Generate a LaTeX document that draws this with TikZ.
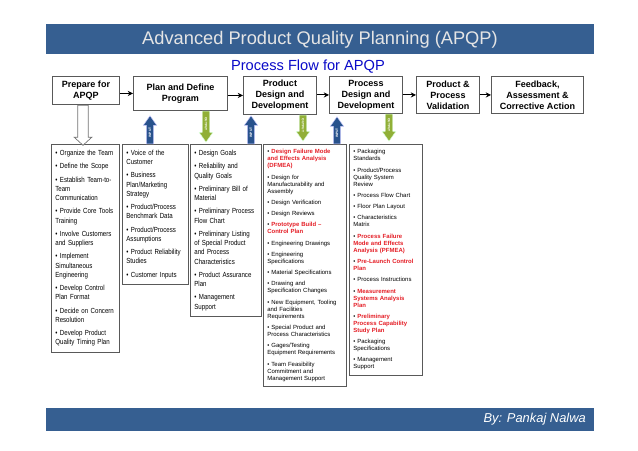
\documentclass[tikz,border=0pt]{standalone}
\usepackage{fontspec}
\setmainfont{Liberation Sans}
\newfontfamily\narrowfont{Liberation Sans}[FakeStretch=0.83]
\usetikzlibrary{arrows.meta,shapes.arrows}
\definecolor{barblue}{RGB}{54,95,145}
\definecolor{flowblue}{RGB}{10,10,200}
\definecolor{hotred}{RGB}{228,30,38}
\definecolor{inblue}{RGB}{40,82,140}
\definecolor{outgreen}{RGB}{145,175,55}
\newcommand{\gp}{\\[3.4pt]}
\newcommand{\gq}{\\[3.6pt]}
\newcommand{\hot}[1]{{\color{hotred}\bfseries #1}}

\begin{document}
\begin{tikzpicture}[x=0.03cm,y=-0.03cm,
    bar/.style={fill=barblue,minimum width=16.44cm,inner sep=0pt},
    stage/.style={draw=black!65,line width=0.8pt,fill=white,anchor=north west,
      align=center,inner sep=1pt,font=\bfseries\fontsize{7.7}{9.4}\selectfont},
    listbox/.style={draw=black!65,line width=0.6pt,anchor=north west,align=left,
      inner xsep=0.12cm,inner ysep=0pt},
    narrowlist/.style={listbox,font=\narrowfont\fontsize{6.3}{7.9}\selectfont},
    smalllist/.style={listbox,font=\fontsize{5.1}{6}\selectfont},
    flow/.style={-{Stealth[length=4.5pt,width=4.5pt]},line width=0.9pt},
    blockarrow/.style={single arrow,single arrow head extend=2.6pt,single arrow tip angle=70,
      line width=0.4pt,inner xsep=1pt,inner ysep=2pt,anchor=tail,text=white,
      font=\bfseries\fontsize{2.8}{3}\selectfont},
    inarrow/.style={blockarrow,fill=inblue,draw=blue!20!white,rotate=90},
    outarrow/.style={blockarrow,fill=outgreen,draw=green!15!white,rotate=-90},
    hollow/.style={single arrow,draw=black!55,fill=white,line width=0.6pt,inner xsep=0pt,
      inner ysep=4.25pt,minimum height=1.2cm,single arrow head extend=3pt,
      single arrow tip angle=95,rotate=-90,anchor=tail}
  ]
    \useasboundingbox (0,0) rectangle (638,451);
    % banner
    \node[bar,minimum height=0.9cm,text=white!90!black,font=\fontsize{15.6}{18}\selectfont]
      (title) at (320,39.5) {Advanced Product Quality Planning (APQP)};
    \node[text=flowblue,font=\fontsize{12.5}{14}\selectfont] (subtitle) at (308,66.5) {Process Flow for APQP};

    % phases
    \node[stage,minimum width=2.01cm,minimum height=0.84cm] (h1) at (52,76) {Prepare for\\APQP};
    \node[stage,minimum width=2.82cm,minimum height=1.02cm] (h2) at (133,76) {Plan and Define\\Program};
    \node[stage,minimum width=2.19cm,minimum height=1.14cm] (h3) at (243,76) {Product\\Design and\\Development};
    \node[stage,minimum width=2.19cm,minimum height=1.11cm] (h4) at (329,76) {Process\\Design and\\Development};
    \node[stage,minimum width=1.89cm,minimum height=1.11cm] (h5) at (416,76) {Product \&\\Process\\Validation};
    \node[stage,minimum width=2.76cm,minimum height=1.11cm] (h6) at (491,76) {Feedback,\\Assessment \&\\Corrective Action};
    \draw[flow] (h1.east |- h2) -- (h2);
    \draw[flow] (h2.east |- h3) -- (h3);
    \draw[flow] (h3.east |- h4) -- (h4);
    \draw[flow] (h4.east |- h5) -- (h5);
    \draw[flow] (h5.east |- h6) -- (h6);

    % lists
    \node[narrowlist,text width=1.8cm,minimum height=6.24cm] (c1) at (51,144) {%
      • Organize the Team\gp
      • Define the Scope\gp
      • Establish Team-to-\\Team\\Communication\gp
      • Provide Core Tools\\Training\gp
      • Involve Customers\\and Suppliers\gp
      • Implement\\Simultaneous\\Engineering\gp
      • Develop Control\\Plan Format\gp
      • Decide on Concern\\Resolution\gp
      • Develop Product\\Quality Timing Plan};
    \node[narrowlist,text width=1.74cm,minimum height=4.2cm] (c2) at (122,144) {%
      • Voice of the\\Customer\gp
      • Business\\Plan/Marketing\\Strategy\gp
      • Product/Process\\Benchmark Data\gp
      • Product/Process\\Assumptions\gp
      • Product Reliability\\Studies\gp
      • Customer Inputs};
    \node[narrowlist,text width=1.89cm,minimum height=5.16cm] (c3) at (190,144) {%
      • Design Goals\gp
      • Reliability and\\Quality Goals\gp
      • Preliminary Bill of\\Material\gp
      • Preliminary Process\\Flow Chart\gp
      • Preliminary Listing\\of Special Product\\and Process\\Characteristics\gp
      • Product Assurance\\Plan\gp
      • Management\\Support};
    \node[smalllist,text width=2.25cm,minimum height=7.26cm] (c4) at (263,144) {%
      • \hot{Design Failure Mode\\and Effects Analysis\\(DFMEA)}\gq
      • Design for\\Manufacturability and\\Assembly\gq
      • Design Verification\gq
      • Design Reviews\gq
      • \hot{Prototype Build –\\Control Plan}\gq
      • Engineering Drawings\gq
      • Engineering\\Specifications\gq
      • Material Specifications\gq
      • Drawing and\\Specification Changes\gq
      • New Equipment, Tooling\\and Facilities\\Requirements\gq
      • Special Product and\\Process Characteristics\gq
      • Gages/Testing\\Equipment Requirements\gq
      • Team Feasibility\\Commitment and\\Management Support};
    \node[smalllist,text width=1.95cm,minimum height=6.93cm] (c5) at (349,144) {%
      • Packaging\\Standards\gq
      • Product/Process\\Quality System\\Review\gq
      • Process Flow Chart\gq
      • Floor Plan Layout\gq
      • Characteristics\\Matrix\gq
      • \hot{Process Failure\\Mode and Effects\\Analysis (PFMEA)}\gq
      • \hot{Pre-Launch Control\\Plan}\gq
      • Process Instructions\gq
      • \hot{Measurement\\Systems Analysis\\Plan}\gq
      • \hot{Preliminary\\Process Capability\\Study Plan}\gq
      • Packaging\\Specifications\gq
      • Management\\Support};

    % input / output arrows
    \node[hollow] (a1) at (83,0 |- h1.south) {};
    \node[inarrow,minimum height=0.84cm] (in2) at (150,0 |- c2.north) {INPUT};
    \node[outarrow,minimum height=0.93cm] (out2) at (206,0 |- h2.south) {OUTPUT};
    \node[inarrow,minimum height=0.84cm] (in3) at (251,0 |- c3.north) {INPUT};
    \node[outarrow,minimum height=0.78cm] (out3) at (303,0 |- h3.south) {OUTPUT};
    \node[inarrow,minimum height=0.81cm] (in4) at (337,0 |- c4.north) {INPUT};
    \node[outarrow,minimum height=0.81cm] (out4) at (389,0 |- h4.south) {OUTPUT};

    % footer
    \node[bar,minimum height=0.69cm] (footer) at (320,419.5) {};
    \node[anchor=east,text=white,font=\itshape\fontsize{11}{13}\selectfont]
      (byline) at ([xshift=-0.13cm]footer.east) {By: Pankaj Nalwa};
\end{tikzpicture}
\end{document}
